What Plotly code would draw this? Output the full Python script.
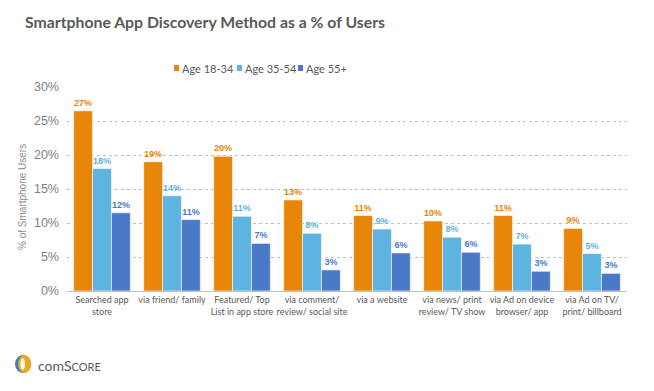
import plotly.graph_objects as go

categories = ["Searched app<br>store", "via friend/ family", "Featured/ Top<br>List in app store",
              "via comment/<br>review/ social site", "via a website", "via news/ print<br>review/ TV show",
              "via Ad on device<br>browser/ app", "via Ad on TV/<br>print/ billboard"]
series_names = ["Age 18-34", "Age 35-54", "Age 55+"]
age_18_34 = [26.5, 19.0, 19.8, 13.4, 11.1, 10.3, 11.1, 9.2]
age_35_54 = [18.0, 14.0, 11.0, 8.5, 9.1, 7.9, 6.9, 5.5]
age_55_plus = [11.5, 10.5, 7.0, 3.1, 5.6, 5.7, 2.9, 2.6]
labels_18_34 = ["27%", "19%", "20%", "13%", "11%", "10%", "11%", "9%"]
labels_35_54 = ["18%", "14%", "11%", "8%", "9%", "8%", "7%", "5%"]
labels_55_plus = ["12%", "11%", "7%", "3%", "6%", "6%", "3%", "3%"]
y_ticks = [0, 5, 10, 15, 20, 25, 30]
y_tick_labels = ["0%", "5%", "10%", "15%", "20%", "25%", "30%"]

colors = ["#E8860A", "#5DB4E0", "#4A7AC7"]
values = [age_18_34, age_35_54, age_55_plus]
labels = [labels_18_34, labels_35_54, labels_55_plus]

# page body has an 8px margin: figure is sized to fit inside the window
OFF = 8
W, H = 654 - 2 * OFF, 391 - 2 * OFF
# target plot area in window pixels: x 67..627, y 87..291
L, R, T, B = 67 - OFF, W - (627 - OFF), 87 - OFF, H - (291 - OFF)
PW, PH = W - L - R, H - T - B


def px(x):  # window pixel -> paper x
    return (x - OFF - L) / PW


def py(y):  # window pixel -> paper y
    return (H - B - (y - OFF)) / PH


fig = go.Figure()
for name, vals, labs, col in zip(series_names, values, labels, colors):
    fig.add_trace(go.Bar(
        x=categories, y=vals, name=name, text=labs,
        textposition="outside", cliponaxis=False,
        textfont=dict(family="Arial, Liberation Sans", size=9, color=col, weight="bold"),
        marker=dict(color=col, line=dict(color="#ffffff", width=0.6)),
        hoverinfo="skip", showlegend=False,
    ))

fig.update_layout(
    width=W, height=H,
    margin=dict(l=L, r=R, t=T, b=B, autoexpand=False),
    paper_bgcolor="white", plot_bgcolor="white",
    barmode="group", bargap=0.19, bargroupgap=0,
    font=dict(family="Arial, Liberation Sans", color="#595959"),
    title=dict(text="<b>Smartphone App Discovery Method as a % of Users</b>",
               x=(25 - OFF) / W, xanchor="left", y=1 - (22 - OFF) / H, yanchor="middle",
               font=dict(family="Lato, Arial", size=15.8, color="#595959")),
    showlegend=False,
    xaxis=dict(showgrid=False, tickfont=dict(family="Lato, Arial", size=9, color="#595959"),
               showline=True, linecolor="#BFBFBF", linewidth=1, ticks="", tickangle=0,
               automargin=False),
    yaxis=dict(range=[0, 30], tickvals=y_ticks, ticktext=y_tick_labels,
               tickfont=dict(size=12.5, color="#808080"), ticklabelstandoff=7,
               showgrid=True, gridcolor="#BFBFBF", griddash="dot", gridwidth=1,
               zeroline=False, ticks="", automargin=False),
)

# y axis title
fig.add_annotation(text="% of Smartphone Users", xref="paper", yref="paper",
                   x=px(22), y=py(197), xanchor="center", yanchor="middle",
                   textangle=-90, showarrow=False,
                   font=dict(size=10, color="#8C8C8C"))

# legend (manual, compact)
for name, col, lx in zip(series_names, colors, [174, 237, 298]):
    fig.add_shape(type="rect", xref="paper", yref="paper",
                  x0=px(lx), x1=px(lx + 5), y0=py(71), y1=py(65),
                  fillcolor=col, line=dict(width=0))
    fig.add_annotation(text=name, xref="paper", yref="paper", x=px(lx + 6), y=py(68),
                       xanchor="left", yanchor="middle", showarrow=False,
                       font=dict(family="Lato, Arial", size=11, color="#595959"))

# comScore logo approximation
fig.add_shape(type="circle", xref="paper", yref="paper",
              x0=px(15), x1=px(31), y0=py(373), y1=py(355),
              fillcolor="#3B7BC8", line=dict(width=0))
fig.add_shape(type="circle", xref="paper", yref="paper",
              x0=px(18), x1=px(31), y0=py(373), y1=py(355),
              fillcolor="#F2A516", line=dict(width=0))
fig.add_shape(type="circle", xref="paper", yref="paper",
              x0=px(20.5), x1=px(25), y0=py(370), y1=py(358),
              fillcolor="white", line=dict(width=0))
fig.add_annotation(text="comS<span style='font-size:11px'>CORE</span>", xref="paper", yref="paper",
                   x=px(36), y=py(365), xanchor="left", yanchor="middle", showarrow=False,
                   font=dict(family="Lato, Arial", size=14, color="#5a5a5a"))

fig.write_html("out.html")
